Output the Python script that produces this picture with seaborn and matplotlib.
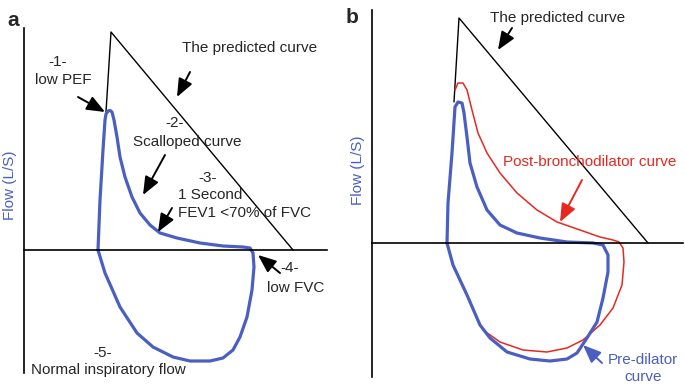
import matplotlib
matplotlib.use("Agg")
import matplotlib.pyplot as plt
import seaborn as sns
import pandas as pd

sns.set_style("white")
plt.rcParams['font.family'] = ['Liberation Sans', 'DejaVu Sans']

BLUE = '#4a5fc1'
RED = '#e8281f'

# ---- panel a (volume in L, flow in L/s, schematic) ----
a_pred_vol = [2.05, 2.175, 6.725]
a_pred_flow = [5.52, 8.72, 0.0]

a_pre_vol = [1.85, 1.90, 1.975, 2.025, 2.05, 2.10, 2.15, 2.20, 2.25, 2.325, 2.40, 2.525,
             2.70, 2.90, 3.15, 3.40, 3.825, 4.40, 4.975, 5.475, 5.65, 5.725, 5.75, 5.70,
             5.575, 5.40, 5.225, 4.975, 4.65, 4.15, 3.725, 3.225, 2.825, 2.40, 2.025, 1.85]
a_pre_flow = [0.0, 2.0, 4.0, 5.2, 5.44, 5.56, 5.58, 5.52, 5.2, 4.52, 3.72, 2.92,
              2.12, 1.48, 1.0, 0.68, 0.48, 0.28, 0.16, 0.12, 0.08, -0.12, -0.68, -1.6,
              -2.68, -3.48, -4.0, -4.32, -4.44, -4.44, -4.28, -3.88, -3.32, -2.28, -0.92, 0.0]

# ---- panel b ----
b_pred_vol = [2.05, 2.175, 6.9]
b_pred_flow = [5.64, 9.0, 0.0]

b_post_vol = [2.075, 2.15, 2.275, 2.375, 2.50, 2.65, 2.875, 3.20, 3.625, 4.125, 4.625,
              5.20, 5.70, 6.025, 6.175, 6.275, 6.30, 6.25, 6.025, 5.70, 5.275, 4.875,
              4.375, 3.775, 3.20, 2.775]
b_post_flow = [6.12, 6.4, 6.4, 6.12, 5.32, 4.4, 3.6, 2.8, 2.0, 1.32, 0.84,
               0.52, 0.24, 0.12, 0.04, -0.2, -0.76, -1.68, -2.6, -3.28, -3.88, -4.2,
               -4.36, -4.28, -3.96, -3.48]

b_pre_vol = [1.875, 1.90, 2.0, 2.075, 2.15, 2.25, 2.30, 2.375, 2.45, 2.625, 2.875, 3.20,
             3.625, 4.20, 4.875, 5.525, 5.775, 5.90, 5.90, 5.775, 5.625, 5.375, 5.125,
             4.875, 4.45, 3.95, 3.375, 2.95, 2.70, 2.375, 2.025, 1.875]
b_pre_flow = [0.0, 1.6, 3.6, 5.44, 5.64, 5.6, 5.2, 4.24, 3.2, 2.24, 1.32, 0.72,
              0.40, 0.20, 0.04, 0.0, -0.08, -0.48, -1.16, -2.2, -3.16, -3.8, -4.4,
              -4.64, -4.72, -4.64, -4.36, -3.8, -3.28, -2.08, -0.88, 0.0]

W, H = 685, 386
fig = plt.figure(figsize=(6.85, 3.86), dpi=100)
ax_a = fig.add_axes([24 / W, (H - 373) / H, 303 / W, 345 / H])
ax_b = fig.add_axes([372 / W, (H - 377) / H, 311 / W, 367 / H])


def curve(ax, vol, flow, color, lw):
    df = pd.DataFrame({'vol': vol, 'flow': flow})
    sns.lineplot(data=df, x='vol', y='flow', sort=False, estimator=None, color=color,
                 lw=lw, ax=ax, solid_joinstyle='round', solid_capstyle='round')


def arrow(ax, tail, tip, color='black'):
    ax.annotate('', xy=tip, xytext=tail, annotation_clip=False,
                arrowprops=dict(arrowstyle='-|>,head_length=1.1,head_width=0.45',
                                color=color, lw=1.4, shrinkA=0, shrinkB=0))


def setup(ax, xmax, ymin, ymax):
    ax.set_xlim(0, xmax)
    ax.set_ylim(ymin, ymax)
    for s in ['top', 'right']:
        ax.spines[s].set_visible(False)
    ax.spines['bottom'].set_position(('data', 0))
    for s in ['left', 'bottom']:
        ax.spines[s].set_color('black')
        ax.spines[s].set_linewidth(1.2)
    ax.set_xticks([])
    ax.set_yticks([])
    ax.set_xlabel('')
    ax.set_ylabel('')
    ax.patch.set_alpha(0)


fs = 11

# panel a
curve(ax_a, a_pred_vol, a_pred_flow, 'black', 1.0)
curve(ax_a, a_pre_vol, a_pre_flow, BLUE, 2.3)
setup(ax_a, 7.575, -4.92, 8.88)
ax_a.text(-0.275, 9.2, 'a', fontsize=15, fontweight='bold', ha='center', va='center', clip_on=False)
ax_a.text(-0.36, 2.6, 'Flow (L/S)', color=BLUE, fontsize=fs, rotation=90, ha='center', va='center')
ax_a.text(5.65, 8.08, 'The predicted curve', fontsize=fs, ha='center', va='center')
arrow(ax_a, (4.15, 7.12), (3.825, 6.12))
ax_a.text(0.85, 7.52, '-1-', fontsize=fs, ha='center', va='center')
ax_a.text(0.975, 6.8, 'low PEF', fontsize=fs, ha='center', va='center')
arrow(ax_a, (1.35, 6.12), (2.025, 5.52))
ax_a.text(3.775, 5.08, '-2-', fontsize=fs, ha='center', va='center')
ax_a.text(4.075, 4.32, 'Scalloped curve', fontsize=fs, ha='center', va='center')
arrow(ax_a, (3.525, 3.8), (2.975, 2.2))
ax_a.text(4.6, 2.88, '-3-', fontsize=fs, ha='center', va='center')
ax_a.text(4.65, 2.2, '1 Second', fontsize=fs, ha='center', va='center')
ax_a.text(5.525, 1.48, 'FEV1 <70% of FVC', fontsize=fs, ha='center', va='center')
arrow(ax_a, (3.7, 1.68), (3.35, 0.72))
ax_a.text(6.65, -0.72, '-4-', fontsize=fs, ha='center', va='center')
ax_a.text(6.8, -1.52, 'low FVC', fontsize=fs, ha='center', va='center')
arrow(ax_a, (6.4, -0.92), (5.85, -0.2))
ax_a.text(1.975, -4.12, '-5-', fontsize=fs, ha='center', va='center')
ax_a.text(2.1, -4.8, 'Normal inspiratory flow', fontsize=fs, ha='center', va='center')

# panel b
curve(ax_b, b_pred_vol, b_pred_flow, 'black', 1.0)
curve(ax_b, b_post_vol, b_post_flow, RED, 1.1)
curve(ax_b, b_pre_vol, b_pre_flow, BLUE, 2.3)
setup(ax_b, 7.775, -5.36, 9.32)
ax_b.text(-0.5, 9.0, 'b', fontsize=15, fontweight='bold', ha='center', va='center', clip_on=False)
ax_b.text(-0.35, 2.92, 'Flow (L/S)', color=BLUE, fontsize=fs, rotation=90, ha='center', va='center')
ax_b.text(4.65, 9.0, 'The predicted curve', fontsize=fs, ha='center', va='center')
arrow(ax_b, (3.5, 8.6), (3.15, 7.72))
ax_b.text(5.45, 3.24, 'Post-bronchodilator curve', color=RED, fontsize=fs, ha='center', va='center')
arrow(ax_b, (5.25, 2.52), (4.7, 0.84), color=RED)
ax_b.text(6.775, -4.68, 'Pre-dilator', color=BLUE, fontsize=fs, ha='center', va='center')
ax_b.text(6.775, -5.36, 'curve', color=BLUE, fontsize=fs, ha='center', va='center')
arrow(ax_b, (5.75, -4.8), (5.275, -4.08), color=BLUE)

fig.savefig('out.png', dpi=100)
